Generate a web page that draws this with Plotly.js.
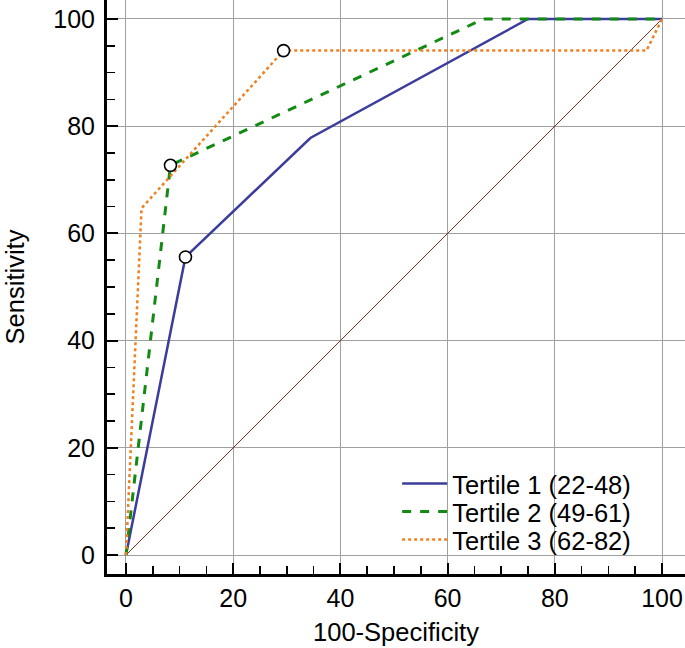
<!DOCTYPE html>
<html><head><meta charset="utf-8">
<script src="https://cdn.plot.ly/plotly-3.0.1.min.js"></script>
<style>html,body{margin:0;padding:0;background:#fff}#c{width:685px;height:648px}</style>
</head><body><div id="c"></div>
<script>
const seriesNames = ["Tertile 1 (22-48)", "Tertile 2 (49-61)", "Tertile 3 (62-82)"];
const t1x = [0, 11.1, 34.4, 75, 100];
const t1y = [0, 55.6, 77.8, 100, 100];
const t2x = [0, 8.3, 66.7, 100];
const t2y = [0, 72.7, 100, 100];
const t3x = [0, 2.9, 29.4, 97.1, 100];
const t3y = [0, 64.7, 94.1, 94.1, 100];
const refX = [0, 100];
const refY = [0, 100];
const critX = [11.1, 8.3, 29.4];
const critY = [55.6, 72.7, 94.1];
const tickVals = [0, 20, 40, 60, 80, 100];

const font = "Liberation Sans, Arial, sans-serif";
const traces = [
  {x: refX, y: refY, mode: "lines", line: {color: "#7E2A1F", width: 1}, showlegend: false, hoverinfo: "skip"},
  {x: t1x, y: t1y, mode: "lines", name: seriesNames[0], legend: "legend", line: {color: "#3C3C9C", width: 2.5}},
  {x: t2x, y: t2y, mode: "lines", name: seriesNames[1], legend: "legend2", line: {color: "#138A13", width: 3, dash: "dash"}},
  {x: t3x, y: t3y, mode: "lines", name: seriesNames[2], legend: "legend3", line: {color: "#F27F1F", width: 2.5, dash: "dot"}},
  {x: critX, y: critY, mode: "markers", showlegend: false,
   marker: {symbol: "circle", size: 12, color: "#fff", line: {color: "#000", width: 1.6}}}
];
const axBase = {
  showline: true, linecolor: "#000", linewidth: 3, mirror: false,
  showgrid: true, gridcolor: "#a0a0a0", gridwidth: 1, zeroline: false,
  ticks: "inside", ticklen: 11, tickwidth: 2, tickcolor: "#000",
  tickvals: tickVals, ticktext: tickVals.map(String),
  tickfont: {family: font, size: 25, color: "#000"},
  minor: {dtick: 5, tick0: 0, ticks: "inside", ticklen: 8, tickwidth: 1.5, tickcolor: "#000", showgrid: false},
  fixedrange: true
};
function leg(yc) {
  return {x: 0.502, y: yc, xanchor: "left", yanchor: "middle",
    bgcolor: "rgba(0,0,0,0)", borderwidth: 0, font: {family: font, size: 25.5, color: "#000"},
    itemwidth: 45};
}
const layout = {
  width: 685, height: 648,
  margin: {l: 107, r: 0, t: 0, b: 74, pad: 0},
  paper_bgcolor: "#fff", plot_bgcolor: "#fff",
  font: {family: font, color: "#000"},
  xaxis: Object.assign({}, axBase, {range: [-3.54, 104.29], ticklabelstandoff: 0,
    title: {text: "100-Specificity", font: {family: font, size: 25.5}, standoff: 13}}),
  yaxis: Object.assign({}, axBase, {range: [-3.54, 103.54], ticklabelstandoff: 4,
    title: {text: "Sensitivity", font: {family: font, size: 25.5}, standoff: 22}}),
  legend: leg((574 - 484) / 574),
  legend2: leg((574 - 512) / 574),
  legend3: leg((574 - 540) / 574),
  shapes: [{type: "rect", xref: "paper", yref: "paper", layer: "between",
    x0: (390 - 107) / 578, x1: (665 - 107) / 578, y0: (574 - 558) / 574, y1: (574 - 466) / 574,
    fillcolor: "#fff", line: {width: 0}}],
  showlegend: true
};
Plotly.newPlot("c", traces, layout, {staticPlot: true, displayModeBar: false});
</script></body></html>
